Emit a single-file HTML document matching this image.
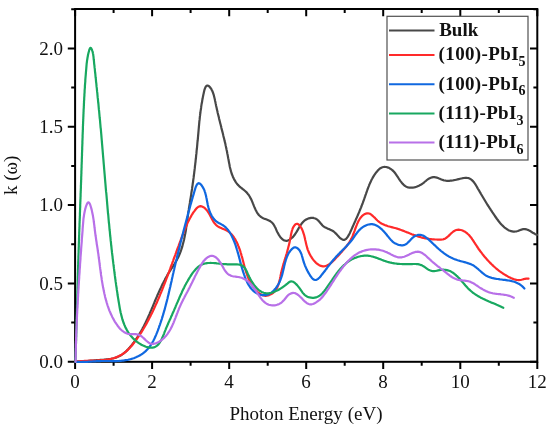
<!DOCTYPE html>
<html lang="en"><head><meta charset="utf-8"><title>k(ω) vs Photon Energy</title>
<style>html,body{margin:0;padding:0;background:#fff}body{width:550px;height:428px;overflow:hidden}svg{display:block}text{font-family:"Liberation Serif","Times New Roman",serif;fill:#111}</style></head><body>
<svg width="550" height="428" viewBox="0 0 550 428">
<rect width="550" height="428" fill="#fff"/>
<g stroke="#000" stroke-width="2" fill="none">
<rect x="75.1" y="9.0" width="462.2" height="352.8"/>
<path d="M75.1,361.8 v7.3 M75.1,9.0 v7.3 M113.6,361.8 v3.9 M113.6,9.0 v3.9 M152.1,361.8 v7.3 M152.1,9.0 v7.3 M190.6,361.8 v3.9 M190.6,9.0 v3.9 M229.2,361.8 v7.3 M229.2,9.0 v7.3 M267.7,361.8 v3.9 M267.7,9.0 v3.9 M306.2,361.8 v7.3 M306.2,9.0 v7.3 M344.7,361.8 v3.9 M344.7,9.0 v3.9 M383.2,361.8 v7.3 M383.2,9.0 v7.3 M421.7,361.8 v3.9 M421.7,9.0 v3.9 M460.3,361.8 v7.3 M460.3,9.0 v7.3 M498.8,361.8 v3.9 M498.8,9.0 v3.9 M537.3,361.8 v7.3 M537.3,9.0 v7.3 M75.1,361.8 h-7.3 M537.3,361.8 h-7.3 M75.1,322.6 h-3.9 M537.3,322.6 h-3.9 M75.1,283.5 h-7.3 M537.3,283.5 h-7.3 M75.1,244.3 h-3.9 M537.3,244.3 h-3.9 M75.1,205.1 h-7.3 M537.3,205.1 h-7.3 M75.1,165.9 h-3.9 M537.3,165.9 h-3.9 M75.1,126.8 h-7.3 M537.3,126.8 h-7.3 M75.1,87.6 h-3.9 M537.3,87.6 h-3.9 M75.1,48.4 h-7.3 M537.3,48.4 h-7.3 M75.1,9.2 h-3.9 M537.3,9.2 h-3.9"/>
</g>
<g fill="none" stroke-width="2.2" stroke-linejoin="round" stroke-linecap="round">
<path stroke="#484848" d="M75.2,361.7 L76.4,361.7 L77.6,361.6 L78.8,361.6 L80.0,361.5 L81.2,361.4 L82.4,361.4 L83.6,361.3 L84.8,361.2 L86.0,361.1 L87.2,361.0 L88.4,360.9 L89.5,360.8 L90.7,360.7 L91.9,360.6 L93.1,360.5 L94.3,360.4 L95.5,360.3 L96.7,360.2 L97.9,360.1 L99.1,360.0 L100.3,359.9 L101.5,359.9 L102.7,359.8 L103.9,359.7 L105.2,359.5 L106.4,359.4 L107.6,359.3 L108.8,359.1 L110.0,359.0 L111.1,358.8 L112.3,358.5 L113.5,358.3 L114.6,358.0 L115.7,357.6 L116.8,357.2 L117.9,356.8 L119.0,356.3 L120.0,355.8 L121.0,355.2 L122.0,354.6 L123.0,353.9 L124.0,353.2 L124.9,352.4 L125.8,351.6 L126.7,350.7 L127.5,349.9 L128.4,349.0 L129.2,348.1 L130.0,347.1 L130.8,346.2 L131.6,345.3 L132.4,344.3 L133.1,343.3 L133.8,342.4 L134.5,341.4 L135.3,340.4 L135.9,339.4 L136.6,338.4 L137.3,337.4 L137.9,336.4 L138.6,335.4 L139.2,334.4 L139.8,333.3 L140.4,332.3 L141.0,331.3 L141.6,330.2 L142.2,329.2 L142.7,328.1 L143.3,327.1 L143.9,326.0 L144.4,324.9 L144.9,323.9 L145.5,322.8 L146.0,321.7 L146.5,320.6 L147.0,319.5 L147.5,318.5 L148.0,317.4 L148.5,316.3 L149.0,315.2 L149.5,314.1 L149.9,313.0 L150.4,311.9 L150.9,310.8 L151.4,309.7 L151.8,308.6 L152.3,307.5 L152.8,306.4 L153.2,305.3 L153.7,304.1 L154.2,303.0 L154.6,301.9 L155.1,300.8 L155.5,299.7 L156.0,298.6 L156.5,297.5 L157.0,296.4 L157.4,295.3 L157.9,294.2 L158.4,293.1 L158.9,292.0 L159.4,290.9 L159.9,289.8 L160.4,288.7 L160.9,287.7 L161.4,286.6 L161.9,285.5 L162.4,284.4 L163.0,283.3 L163.5,282.3 L164.0,281.2 L164.6,280.2 L165.2,279.1 L165.7,278.0 L166.3,277.0 L166.9,276.0 L167.5,274.9 L168.1,273.9 L168.7,272.9 L169.4,271.9 L170.0,270.8 L170.7,269.8 L171.3,268.8 L172.0,267.8 L172.6,266.8 L173.3,265.8 L173.9,264.8 L174.6,263.8 L175.2,262.7 L175.8,261.7 L176.4,260.7 L177.0,259.6 L177.5,258.6 L178.1,257.5 L178.6,256.5 L179.1,255.4 L179.5,254.3 L180.0,253.2 L180.4,252.1 L180.8,251.0 L181.2,249.9 L181.6,248.7 L181.9,247.6 L182.3,246.5 L182.6,245.3 L182.9,244.1 L183.2,243.0 L183.5,241.8 L183.8,240.7 L184.1,239.5 L184.3,238.3 L184.6,237.1 L184.8,235.9 L185.0,234.7 L185.3,233.5 L185.5,232.4 L185.7,231.2 L185.9,230.0 L186.1,228.8 L186.2,227.6 L186.4,226.4 L186.6,225.2 L186.8,224.0 L186.9,222.8 L187.1,221.6 L187.3,220.4 L187.4,219.2 L187.6,218.0 L187.7,216.8 L187.9,215.6 L188.1,214.4 L188.2,213.2 L188.4,212.0 L188.6,210.9 L188.8,209.7 L188.9,208.5 L189.1,207.4 L189.3,206.2 L189.5,205.0 L189.7,203.9 L189.9,202.7 L190.0,201.5 L190.2,200.4 L190.4,199.2 L190.6,198.1 L190.8,196.9 L191.0,195.7 L191.2,194.6 L191.3,193.4 L191.5,192.2 L191.7,191.0 L191.9,189.9 L192.1,188.7 L192.2,187.5 L192.4,186.3 L192.6,185.1 L192.7,183.9 L192.9,182.7 L193.1,181.5 L193.2,180.3 L193.4,179.1 L193.6,177.9 L193.7,176.7 L193.9,175.5 L194.0,174.3 L194.2,173.1 L194.3,171.8 L194.5,170.6 L194.6,169.4 L194.8,168.2 L194.9,167.0 L195.0,165.8 L195.2,164.6 L195.3,163.3 L195.5,162.1 L195.6,160.9 L195.7,159.7 L195.9,158.5 L196.0,157.3 L196.1,156.1 L196.2,154.9 L196.4,153.7 L196.5,152.4 L196.6,151.2 L196.7,150.0 L196.9,148.8 L197.0,147.7 L197.1,146.5 L197.2,145.3 L197.3,144.1 L197.4,142.9 L197.5,141.7 L197.7,140.5 L197.8,139.4 L197.9,138.2 L198.0,137.0 L198.1,135.9 L198.2,134.7 L198.3,133.6 L198.4,132.4 L198.5,131.3 L198.6,130.2 L198.7,129.0 L198.8,127.9 L198.9,126.7 L199.0,125.6 L199.1,124.5 L199.2,123.3 L199.3,122.2 L199.4,121.0 L199.6,119.9 L199.7,118.7 L199.8,117.6 L199.9,116.4 L200.1,115.2 L200.2,114.0 L200.4,112.8 L200.5,111.6 L200.7,110.4 L200.9,109.2 L201.1,107.9 L201.2,106.7 L201.4,105.4 L201.6,104.1 L201.9,102.8 L202.1,101.5 L202.3,100.1 L202.6,98.8 L202.8,97.4 L203.1,96.0 L203.4,94.6 L203.7,93.2 L204.0,91.8 L204.3,90.4 L204.7,89.2 L205.1,88.1 L205.5,87.1 L206.0,86.3 L206.6,85.8 L207.2,85.6 L207.8,85.6 L208.5,85.9 L209.3,86.5 L210.0,87.3 L210.7,88.2 L211.4,89.2 L211.9,90.3 L212.5,91.4 L212.9,92.5 L213.3,93.6 L213.7,94.8 L214.0,96.0 L214.3,97.2 L214.6,98.4 L214.9,99.7 L215.1,100.9 L215.4,102.1 L215.6,103.3 L215.9,104.6 L216.1,105.8 L216.4,107.0 L216.7,108.2 L216.9,109.4 L217.2,110.5 L217.5,111.7 L217.7,112.9 L218.0,114.1 L218.3,115.3 L218.6,116.4 L218.9,117.6 L219.1,118.8 L219.4,119.9 L219.7,121.1 L220.0,122.2 L220.3,123.4 L220.6,124.5 L220.9,125.7 L221.2,126.8 L221.4,128.0 L221.7,129.1 L222.0,130.3 L222.3,131.4 L222.6,132.6 L222.9,133.7 L223.2,134.9 L223.4,136.0 L223.7,137.2 L224.0,138.3 L224.3,139.5 L224.5,140.6 L224.8,141.8 L225.1,142.9 L225.4,144.1 L225.6,145.2 L225.9,146.4 L226.1,147.6 L226.4,148.7 L226.6,149.9 L226.9,151.1 L227.1,152.3 L227.3,153.5 L227.6,154.7 L227.8,155.9 L228.0,157.1 L228.2,158.3 L228.5,159.5 L228.7,160.7 L228.9,161.9 L229.1,163.1 L229.4,164.3 L229.6,165.5 L229.8,166.7 L230.1,167.9 L230.4,169.1 L230.7,170.3 L231.0,171.4 L231.4,172.6 L231.7,173.7 L232.1,174.8 L232.6,175.9 L233.0,177.0 L233.5,178.1 L234.0,179.1 L234.6,180.1 L235.2,181.1 L235.8,182.1 L236.5,183.1 L237.2,184.0 L238.0,184.9 L238.8,185.7 L239.7,186.6 L240.6,187.4 L241.6,188.1 L242.5,188.9 L243.5,189.7 L244.5,190.5 L245.4,191.3 L246.3,192.1 L247.1,193.0 L247.8,193.9 L248.6,194.8 L249.2,195.8 L249.8,196.8 L250.4,197.9 L251.0,198.9 L251.5,200.0 L252.0,201.1 L252.5,202.3 L252.9,203.4 L253.4,204.6 L253.8,205.7 L254.3,206.9 L254.8,208.0 L255.3,209.1 L255.8,210.2 L256.4,211.3 L256.9,212.3 L257.6,213.3 L258.3,214.3 L259.0,215.2 L259.9,216.0 L260.7,216.8 L261.7,217.4 L262.7,218.0 L263.8,218.5 L264.9,218.9 L266.1,219.3 L267.2,219.7 L268.3,220.2 L269.4,220.7 L270.4,221.3 L271.3,222.0 L272.2,222.8 L272.9,223.6 L273.6,224.5 L274.2,225.5 L274.7,226.5 L275.3,227.5 L275.8,228.6 L276.3,229.8 L276.8,231.0 L277.4,232.2 L278.1,233.4 L278.7,234.6 L279.4,235.7 L280.2,236.8 L280.9,237.8 L281.8,238.7 L282.6,239.4 L283.5,240.0 L284.4,240.5 L285.4,240.7 L286.4,240.8 L287.4,240.6 L288.5,240.2 L289.5,239.7 L290.5,239.0 L291.5,238.2 L292.5,237.4 L293.3,236.5 L294.1,235.5 L294.9,234.5 L295.6,233.4 L296.3,232.4 L296.9,231.3 L297.6,230.2 L298.2,229.1 L298.8,228.0 L299.5,226.9 L300.1,225.8 L300.8,224.8 L301.5,223.8 L302.2,222.9 L303.0,222.0 L303.8,221.2 L304.7,220.4 L305.7,219.8 L306.7,219.2 L307.8,218.7 L308.8,218.3 L309.9,218.1 L311.0,217.9 L312.2,217.9 L313.3,217.9 L314.3,218.2 L315.4,218.5 L316.4,219.1 L317.3,219.7 L318.3,220.6 L319.1,221.5 L320.0,222.5 L320.8,223.5 L321.7,224.5 L322.5,225.5 L323.5,226.3 L324.4,227.0 L325.5,227.6 L326.5,228.1 L327.6,228.6 L328.7,229.0 L329.8,229.4 L330.9,229.9 L331.9,230.4 L332.9,231.0 L333.9,231.7 L334.8,232.5 L335.7,233.4 L336.6,234.3 L337.5,235.3 L338.4,236.2 L339.3,237.2 L340.2,238.1 L341.2,238.8 L342.2,239.4 L343.1,239.8 L344.0,239.9 L344.9,239.6 L345.8,239.1 L346.6,238.3 L347.3,237.4 L348.0,236.3 L348.7,235.2 L349.3,234.1 L349.9,232.9 L350.4,231.8 L350.9,230.7 L351.4,229.6 L351.9,228.5 L352.4,227.3 L352.9,226.2 L353.4,225.1 L353.9,224.0 L354.4,222.9 L354.9,221.8 L355.4,220.7 L355.8,219.6 L356.3,218.5 L356.8,217.5 L357.3,216.4 L357.8,215.3 L358.2,214.2 L358.7,213.1 L359.2,212.0 L359.6,210.9 L360.1,209.8 L360.5,208.7 L361.0,207.6 L361.4,206.5 L361.8,205.4 L362.3,204.3 L362.7,203.2 L363.1,202.0 L363.5,200.9 L363.9,199.8 L364.3,198.7 L364.7,197.5 L365.1,196.4 L365.5,195.2 L365.9,194.1 L366.3,192.9 L366.7,191.8 L367.1,190.7 L367.5,189.5 L367.9,188.4 L368.3,187.3 L368.8,186.1 L369.2,185.0 L369.7,183.9 L370.2,182.8 L370.7,181.7 L371.2,180.6 L371.7,179.5 L372.3,178.5 L372.9,177.4 L373.5,176.4 L374.1,175.4 L374.8,174.4 L375.5,173.4 L376.2,172.4 L377.0,171.5 L377.7,170.6 L378.6,169.7 L379.5,168.9 L380.4,168.2 L381.4,167.7 L382.4,167.3 L383.5,167.0 L384.6,166.9 L385.8,167.0 L387.0,167.2 L388.2,167.6 L389.3,168.1 L390.3,168.7 L391.3,169.4 L392.3,170.1 L393.1,170.9 L394.0,171.8 L394.8,172.8 L395.6,173.8 L396.3,174.8 L397.0,175.9 L397.7,176.9 L398.4,178.0 L399.1,179.1 L399.8,180.1 L400.5,181.1 L401.3,182.1 L402.0,183.0 L402.8,183.9 L403.6,184.7 L404.4,185.5 L405.3,186.1 L406.2,186.7 L407.2,187.1 L408.2,187.4 L409.3,187.6 L410.4,187.7 L411.6,187.7 L412.8,187.6 L414.0,187.4 L415.2,187.1 L416.5,186.7 L417.7,186.2 L418.9,185.7 L420.1,185.1 L421.2,184.5 L422.2,183.8 L423.2,183.1 L424.2,182.3 L425.1,181.5 L426.0,180.8 L426.9,180.0 L427.8,179.3 L428.7,178.7 L429.7,178.2 L430.8,177.7 L432.0,177.4 L433.2,177.2 L434.4,177.2 L435.6,177.3 L436.8,177.6 L438.0,178.0 L439.1,178.5 L440.3,179.0 L441.4,179.5 L442.6,179.9 L443.7,180.3 L444.8,180.5 L445.9,180.7 L447.0,180.8 L448.1,180.8 L449.2,180.8 L450.4,180.7 L451.5,180.6 L452.7,180.5 L453.8,180.2 L455.0,180.0 L456.3,179.7 L457.5,179.4 L458.8,179.1 L460.1,178.8 L461.4,178.5 L462.7,178.2 L464.0,178.0 L465.3,177.8 L466.5,177.8 L467.6,178.0 L468.7,178.2 L469.7,178.6 L470.7,179.2 L471.6,179.8 L472.4,180.6 L473.2,181.4 L474.0,182.3 L474.7,183.3 L475.4,184.3 L476.0,185.4 L476.7,186.5 L477.3,187.6 L477.9,188.7 L478.5,189.7 L479.2,190.8 L479.8,191.9 L480.4,192.9 L481.0,194.0 L481.6,195.0 L482.2,196.0 L482.8,197.0 L483.4,198.0 L484.0,199.0 L484.6,200.0 L485.2,201.0 L485.8,202.0 L486.4,203.0 L487.0,204.0 L487.6,205.0 L488.3,206.0 L488.9,206.9 L489.5,207.9 L490.2,208.9 L490.8,209.9 L491.5,210.9 L492.1,211.9 L492.8,212.9 L493.5,213.9 L494.2,214.9 L494.9,216.0 L495.6,217.0 L496.3,218.0 L497.0,219.0 L497.8,220.0 L498.5,221.0 L499.3,222.0 L500.1,223.0 L500.9,223.9 L501.7,224.8 L502.6,225.6 L503.5,226.5 L504.3,227.3 L505.2,228.0 L506.2,228.7 L507.1,229.3 L508.1,229.9 L509.1,230.4 L510.1,230.8 L511.1,231.2 L512.2,231.4 L513.3,231.6 L514.4,231.6 L515.5,231.5 L516.7,231.3 L517.9,231.0 L519.1,230.5 L520.3,230.0 L521.5,229.6 L522.7,229.2 L523.9,229.1 L525.1,229.1 L526.3,229.3 L527.4,229.7 L528.5,230.1 L529.6,230.7 L530.7,231.3 L531.7,232.0 L532.8,232.7 L533.9,233.3 L534.9,233.9 L536.0,234.4 L537.0,234.8"/>
<path stroke="#ff2a2a" d="M75.3,361.9 L76.4,361.7 L77.6,361.5 L78.7,361.4 L79.8,361.3 L81.0,361.1 L82.2,361.1 L83.4,361.0 L84.6,360.9 L85.8,360.9 L87.0,360.8 L88.2,360.8 L89.4,360.7 L90.6,360.7 L91.9,360.6 L93.1,360.6 L94.3,360.6 L95.6,360.5 L96.8,360.5 L98.0,360.4 L99.3,360.4 L100.5,360.3 L101.7,360.2 L103.0,360.1 L104.2,360.0 L105.4,359.8 L106.6,359.7 L107.8,359.5 L109.0,359.3 L110.1,359.1 L111.3,358.8 L112.4,358.5 L113.6,358.2 L114.7,357.9 L115.8,357.5 L116.9,357.1 L117.9,356.6 L119.0,356.1 L120.0,355.6 L121.0,355.1 L122.0,354.4 L123.0,353.8 L123.9,353.1 L124.9,352.4 L125.8,351.7 L126.7,350.9 L127.5,350.1 L128.4,349.2 L129.2,348.4 L130.1,347.5 L130.9,346.6 L131.7,345.7 L132.5,344.7 L133.2,343.8 L134.0,342.8 L134.7,341.9 L135.5,340.9 L136.2,339.9 L136.9,338.9 L137.6,337.9 L138.3,336.9 L139.0,335.9 L139.7,334.9 L140.3,333.9 L141.0,332.9 L141.6,331.9 L142.2,330.8 L142.9,329.8 L143.5,328.8 L144.1,327.8 L144.7,326.7 L145.3,325.7 L145.9,324.6 L146.5,323.6 L147.1,322.5 L147.6,321.5 L148.2,320.4 L148.7,319.4 L149.3,318.3 L149.8,317.3 L150.4,316.2 L150.9,315.1 L151.4,314.1 L152.0,313.0 L152.5,311.9 L153.0,310.9 L153.5,309.8 L154.0,308.7 L154.5,307.6 L155.0,306.5 L155.5,305.4 L156.0,304.3 L156.5,303.3 L157.0,302.2 L157.4,301.1 L157.9,300.0 L158.4,298.9 L158.9,297.8 L159.3,296.7 L159.8,295.6 L160.2,294.4 L160.7,293.3 L161.2,292.2 L161.6,291.1 L162.1,290.0 L162.5,288.9 L162.9,287.8 L163.4,286.7 L163.8,285.5 L164.3,284.4 L164.7,283.3 L165.1,282.2 L165.6,281.1 L166.0,279.9 L166.4,278.8 L166.8,277.7 L167.3,276.6 L167.7,275.4 L168.1,274.3 L168.5,273.2 L169.0,272.1 L169.4,270.9 L169.8,269.8 L170.2,268.7 L170.6,267.5 L171.0,266.4 L171.4,265.3 L171.9,264.2 L172.3,263.0 L172.7,261.9 L173.1,260.8 L173.5,259.6 L173.9,258.5 L174.3,257.4 L174.7,256.3 L175.2,255.1 L175.6,254.0 L176.0,252.9 L176.4,251.7 L176.8,250.6 L177.2,249.5 L177.6,248.4 L178.0,247.3 L178.5,246.1 L178.9,245.0 L179.3,243.9 L179.7,242.8 L180.1,241.7 L180.6,240.5 L181.0,239.4 L181.4,238.3 L181.8,237.2 L182.2,236.1 L182.7,235.0 L183.1,233.9 L183.5,232.8 L184.0,231.7 L184.4,230.5 L184.9,229.4 L185.3,228.3 L185.7,227.3 L186.2,226.2 L186.7,225.1 L187.1,224.0 L187.6,222.9 L188.1,221.8 L188.7,220.7 L189.2,219.6 L189.8,218.5 L190.4,217.5 L191.0,216.4 L191.6,215.3 L192.2,214.3 L192.9,213.2 L193.6,212.1 L194.4,211.1 L195.2,210.0 L196.0,209.0 L196.8,208.1 L197.7,207.3 L198.6,206.7 L199.6,206.3 L200.5,206.2 L201.5,206.3 L202.5,206.7 L203.5,207.2 L204.5,207.9 L205.4,208.8 L206.3,209.7 L207.1,210.6 L207.8,211.6 L208.5,212.7 L209.1,213.7 L209.8,214.8 L210.3,215.9 L210.9,217.0 L211.5,218.1 L212.0,219.2 L212.6,220.2 L213.2,221.3 L213.9,222.3 L214.5,223.2 L215.3,224.1 L216.1,225.0 L216.9,225.7 L217.8,226.4 L218.9,227.0 L219.9,227.6 L221.1,228.1 L222.2,228.6 L223.4,229.0 L224.6,229.5 L225.7,230.0 L226.8,230.6 L227.9,231.2 L228.9,231.9 L229.8,232.7 L230.7,233.5 L231.5,234.3 L232.3,235.2 L233.1,236.2 L233.8,237.1 L234.4,238.1 L235.1,239.1 L235.7,240.2 L236.2,241.2 L236.8,242.3 L237.3,243.4 L237.8,244.5 L238.2,245.6 L238.7,246.7 L239.1,247.8 L239.5,248.9 L239.9,250.0 L240.3,251.2 L240.6,252.3 L241.0,253.5 L241.3,254.6 L241.6,255.8 L242.0,256.9 L242.3,258.1 L242.6,259.2 L242.9,260.4 L243.2,261.6 L243.5,262.7 L243.8,263.9 L244.1,265.1 L244.4,266.2 L244.7,267.4 L245.0,268.5 L245.4,269.7 L245.7,270.8 L246.1,272.0 L246.5,273.1 L246.9,274.2 L247.3,275.4 L247.7,276.5 L248.1,277.6 L248.6,278.7 L249.1,279.8 L249.6,280.8 L250.2,281.9 L250.7,283.0 L251.3,284.0 L252.0,285.1 L252.6,286.1 L253.3,287.1 L254.1,288.1 L254.8,289.1 L255.6,290.0 L256.5,290.9 L257.4,291.8 L258.3,292.6 L259.3,293.4 L260.2,294.1 L261.3,294.6 L262.3,295.1 L263.4,295.5 L264.5,295.7 L265.6,295.8 L266.8,295.7 L268.0,295.5 L269.1,295.1 L270.3,294.6 L271.4,294.1 L272.4,293.4 L273.4,292.6 L274.3,291.8 L275.0,291.0 L275.7,290.0 L276.4,289.0 L277.0,288.0 L277.5,286.9 L277.9,285.8 L278.4,284.7 L278.7,283.5 L279.1,282.3 L279.4,281.1 L279.7,279.9 L280.0,278.7 L280.2,277.5 L280.5,276.2 L280.7,275.0 L281.0,273.8 L281.3,272.6 L281.5,271.4 L281.8,270.3 L282.1,269.1 L282.4,268.0 L282.7,266.8 L283.0,265.7 L283.3,264.6 L283.7,263.5 L284.0,262.4 L284.3,261.3 L284.7,260.2 L285.0,259.1 L285.3,258.0 L285.7,256.9 L286.0,255.8 L286.3,254.7 L286.7,253.6 L287.0,252.4 L287.3,251.3 L287.6,250.1 L287.9,249.0 L288.2,247.8 L288.5,246.6 L288.8,245.4 L289.1,244.2 L289.4,242.9 L289.7,241.7 L289.9,240.4 L290.2,239.0 L290.4,237.7 L290.7,236.4 L290.9,235.1 L291.2,233.8 L291.5,232.5 L291.8,231.2 L292.2,230.0 L292.5,228.9 L293.0,227.8 L293.5,226.8 L294.1,225.9 L294.7,225.1 L295.4,224.4 L296.1,224.0 L296.9,223.8 L297.7,223.9 L298.4,224.4 L299.2,225.0 L299.9,225.9 L300.6,226.9 L301.3,227.9 L301.9,229.0 L302.4,230.2 L302.9,231.4 L303.3,232.6 L303.7,233.8 L304.1,235.0 L304.4,236.2 L304.7,237.5 L305.0,238.7 L305.2,239.9 L305.5,241.1 L305.8,242.3 L306.0,243.4 L306.3,244.5 L306.6,245.7 L306.9,246.8 L307.2,247.9 L307.5,249.0 L307.9,250.1 L308.4,251.2 L308.8,252.3 L309.3,253.4 L309.9,254.5 L310.5,255.6 L311.2,256.7 L311.9,257.8 L312.6,258.9 L313.4,259.9 L314.3,260.9 L315.1,261.9 L316.0,262.8 L317.0,263.6 L317.9,264.3 L318.9,264.9 L319.9,265.4 L320.9,265.9 L321.9,266.1 L322.9,266.3 L323.9,266.3 L324.9,266.2 L325.9,266.0 L326.9,265.6 L327.9,265.1 L328.8,264.5 L329.8,263.9 L330.8,263.1 L331.8,262.3 L332.7,261.4 L333.7,260.5 L334.6,259.6 L335.5,258.6 L336.4,257.6 L337.3,256.6 L338.2,255.7 L339.1,254.7 L340.0,253.7 L340.8,252.8 L341.6,251.9 L342.4,251.0 L343.2,250.1 L344.0,249.2 L344.7,248.4 L345.4,247.5 L346.2,246.6 L346.9,245.7 L347.5,244.8 L348.2,243.9 L348.8,243.0 L349.4,242.1 L350.0,241.1 L350.6,240.1 L351.1,239.1 L351.7,238.0 L352.2,237.0 L352.7,235.9 L353.1,234.7 L353.6,233.5 L354.0,232.3 L354.5,231.1 L354.9,229.9 L355.3,228.7 L355.8,227.5 L356.2,226.3 L356.7,225.1 L357.1,223.9 L357.7,222.7 L358.2,221.6 L358.8,220.5 L359.4,219.5 L360.0,218.5 L360.7,217.6 L361.4,216.7 L362.2,215.9 L363.1,215.2 L364.0,214.5 L364.9,214.0 L366.0,213.6 L367.0,213.3 L368.0,213.3 L369.0,213.5 L369.9,213.8 L370.9,214.4 L371.8,215.1 L372.7,215.9 L373.6,216.7 L374.6,217.6 L375.5,218.6 L376.4,219.5 L377.4,220.5 L378.4,221.3 L379.4,222.1 L380.4,222.8 L381.4,223.5 L382.5,224.0 L383.6,224.5 L384.7,225.0 L385.8,225.4 L386.9,225.8 L388.0,226.2 L389.1,226.5 L390.3,226.8 L391.4,227.1 L392.6,227.4 L393.7,227.7 L394.9,228.0 L396.0,228.3 L397.1,228.6 L398.3,229.0 L399.4,229.4 L400.5,229.8 L401.7,230.2 L402.8,230.6 L403.9,231.0 L405.0,231.5 L406.1,231.9 L407.3,232.4 L408.4,232.8 L409.5,233.3 L410.6,233.7 L411.7,234.2 L412.9,234.6 L414.0,235.0 L415.1,235.4 L416.3,235.8 L417.4,236.2 L418.5,236.6 L419.7,236.9 L420.9,237.3 L422.0,237.6 L423.2,237.8 L424.4,238.1 L425.5,238.3 L426.7,238.5 L427.9,238.7 L429.1,238.9 L430.3,239.0 L431.5,239.2 L432.7,239.3 L433.9,239.4 L435.1,239.5 L436.3,239.5 L437.5,239.6 L438.7,239.6 L439.9,239.6 L441.0,239.6 L442.2,239.5 L443.3,239.3 L444.4,238.9 L445.4,238.4 L446.5,237.7 L447.4,236.9 L448.4,236.1 L449.4,235.1 L450.3,234.2 L451.2,233.3 L452.2,232.5 L453.2,231.7 L454.2,231.0 L455.2,230.4 L456.2,230.0 L457.3,229.8 L458.5,229.7 L459.6,229.8 L460.7,230.0 L461.9,230.3 L463.0,230.7 L464.0,231.3 L465.1,231.8 L466.0,232.5 L467.0,233.2 L467.8,234.0 L468.7,234.8 L469.5,235.6 L470.2,236.5 L471.0,237.4 L471.7,238.4 L472.3,239.4 L473.0,240.3 L473.7,241.4 L474.3,242.4 L475.0,243.4 L475.6,244.4 L476.3,245.4 L477.0,246.5 L477.7,247.5 L478.3,248.5 L479.0,249.5 L479.8,250.5 L480.5,251.5 L481.2,252.4 L482.0,253.4 L482.7,254.4 L483.5,255.3 L484.2,256.3 L485.0,257.2 L485.8,258.1 L486.6,259.0 L487.4,259.9 L488.2,260.8 L489.1,261.7 L489.9,262.6 L490.7,263.4 L491.6,264.3 L492.5,265.1 L493.3,265.9 L494.2,266.7 L495.1,267.5 L496.0,268.3 L497.0,269.1 L497.9,269.8 L498.8,270.6 L499.8,271.3 L500.7,272.0 L501.7,272.6 L502.7,273.3 L503.7,274.0 L504.7,274.6 L505.7,275.2 L506.7,275.8 L507.8,276.4 L508.8,276.9 L509.9,277.4 L510.9,278.0 L512.0,278.4 L513.1,278.9 L514.2,279.3 L515.3,279.6 L516.5,279.9 L517.6,280.0 L518.8,280.1 L520.0,280.0 L521.2,279.8 L522.5,279.5 L523.7,279.1 L525.0,278.8 L526.2,278.6 L527.4,278.5 L528.5,278.6"/>
<path stroke="#1068e0" d="M75.2,361.8 L76.4,361.8 L77.6,361.9 L78.8,361.9 L80.0,362.0 L81.2,362.0 L82.4,361.9 L83.6,361.9 L84.8,361.9 L86.0,361.8 L87.2,361.8 L88.4,361.7 L89.6,361.7 L90.8,361.6 L92.0,361.5 L93.2,361.4 L94.4,361.4 L95.5,361.3 L96.7,361.2 L97.9,361.2 L99.1,361.1 L100.3,361.1 L101.5,361.0 L102.7,361.0 L103.9,361.0 L105.1,361.0 L106.3,361.0 L107.5,361.0 L108.8,361.0 L110.0,361.0 L111.2,361.1 L112.4,361.1 L113.6,361.1 L114.8,361.1 L116.0,361.1 L117.3,361.0 L118.5,361.0 L119.7,360.9 L120.9,360.8 L122.1,360.7 L123.3,360.6 L124.5,360.4 L125.7,360.2 L126.9,360.0 L128.0,359.8 L129.2,359.5 L130.4,359.2 L131.5,358.9 L132.7,358.5 L133.8,358.2 L134.9,357.7 L136.0,357.3 L137.0,356.8 L138.1,356.3 L139.1,355.8 L140.1,355.2 L141.1,354.6 L142.1,354.0 L143.0,353.3 L143.9,352.6 L144.8,351.9 L145.7,351.1 L146.5,350.3 L147.3,349.5 L148.1,348.6 L148.8,347.7 L149.5,346.8 L150.2,345.8 L150.9,344.8 L151.6,343.8 L152.2,342.8 L152.8,341.7 L153.4,340.7 L153.9,339.6 L154.5,338.5 L155.0,337.3 L155.5,336.2 L156.0,335.1 L156.5,333.9 L157.0,332.7 L157.4,331.6 L157.9,330.4 L158.3,329.2 L158.7,328.1 L159.1,326.9 L159.5,325.7 L160.0,324.6 L160.3,323.4 L160.7,322.3 L161.1,321.1 L161.5,319.9 L161.9,318.8 L162.2,317.6 L162.6,316.5 L162.9,315.3 L163.3,314.2 L163.6,313.0 L163.9,311.9 L164.3,310.7 L164.6,309.6 L164.9,308.4 L165.2,307.3 L165.5,306.2 L165.8,305.0 L166.1,303.9 L166.4,302.7 L166.7,301.6 L167.0,300.4 L167.3,299.3 L167.6,298.2 L167.8,297.0 L168.1,295.9 L168.4,294.7 L168.7,293.6 L168.9,292.4 L169.2,291.3 L169.5,290.1 L169.7,289.0 L170.0,287.8 L170.3,286.7 L170.5,285.5 L170.8,284.4 L171.0,283.2 L171.3,282.1 L171.6,280.9 L171.8,279.8 L172.1,278.6 L172.3,277.5 L172.6,276.3 L172.8,275.1 L173.1,274.0 L173.4,272.8 L173.6,271.6 L173.9,270.5 L174.2,269.3 L174.4,268.1 L174.7,266.9 L175.0,265.8 L175.3,264.6 L175.5,263.4 L175.8,262.2 L176.1,261.0 L176.4,259.8 L176.7,258.7 L176.9,257.5 L177.2,256.3 L177.5,255.1 L177.8,253.9 L178.1,252.7 L178.4,251.5 L178.7,250.3 L179.0,249.1 L179.3,248.0 L179.6,246.8 L179.8,245.6 L180.1,244.4 L180.4,243.2 L180.7,242.0 L181.0,240.9 L181.3,239.7 L181.6,238.5 L181.9,237.3 L182.2,236.2 L182.5,235.0 L182.8,233.9 L183.1,232.7 L183.4,231.5 L183.7,230.4 L184.0,229.2 L184.3,228.1 L184.6,227.0 L184.9,225.8 L185.2,224.7 L185.5,223.6 L185.8,222.5 L186.1,221.4 L186.4,220.3 L186.7,219.1 L187.0,218.0 L187.3,216.9 L187.6,215.8 L187.8,214.7 L188.1,213.6 L188.4,212.5 L188.7,211.4 L189.1,210.3 L189.4,209.2 L189.7,208.0 L190.0,206.9 L190.3,205.7 L190.6,204.5 L191.0,203.4 L191.3,202.2 L191.7,200.9 L192.0,199.7 L192.4,198.4 L192.7,197.2 L193.1,195.9 L193.5,194.6 L193.9,193.2 L194.3,191.8 L194.7,190.4 L195.1,189.1 L195.5,187.7 L196.0,186.5 L196.5,185.4 L197.0,184.5 L197.6,183.8 L198.2,183.3 L198.9,183.2 L199.6,183.5 L200.4,184.0 L201.1,184.8 L201.9,185.8 L202.6,186.9 L203.3,188.1 L203.9,189.2 L204.4,190.4 L204.8,191.6 L205.2,192.7 L205.5,193.9 L205.8,195.1 L206.1,196.2 L206.3,197.4 L206.6,198.6 L206.8,199.7 L207.0,200.9 L207.2,202.1 L207.5,203.3 L207.7,204.5 L208.0,205.7 L208.3,206.9 L208.6,208.1 L209.0,209.3 L209.3,210.5 L209.8,211.6 L210.2,212.7 L210.7,213.8 L211.2,214.9 L211.8,216.0 L212.4,217.0 L213.1,217.9 L213.8,218.9 L214.6,219.7 L215.4,220.6 L216.3,221.3 L217.2,222.0 L218.2,222.7 L219.3,223.3 L220.4,223.8 L221.4,224.4 L222.5,225.0 L223.5,225.7 L224.5,226.4 L225.4,227.1 L226.2,228.0 L227.1,228.8 L227.8,229.8 L228.6,230.7 L229.2,231.7 L229.9,232.7 L230.5,233.8 L231.1,234.8 L231.7,235.9 L232.2,237.0 L232.7,238.1 L233.2,239.2 L233.7,240.3 L234.1,241.4 L234.6,242.5 L235.0,243.6 L235.4,244.7 L235.8,245.9 L236.1,247.0 L236.5,248.1 L236.8,249.3 L237.2,250.4 L237.5,251.6 L237.8,252.7 L238.2,253.8 L238.5,255.0 L238.8,256.1 L239.1,257.3 L239.4,258.4 L239.7,259.6 L240.0,260.8 L240.3,261.9 L240.6,263.1 L240.9,264.2 L241.2,265.4 L241.5,266.5 L241.9,267.7 L242.2,268.8 L242.6,270.0 L242.9,271.2 L243.3,272.3 L243.7,273.4 L244.1,274.6 L244.5,275.7 L244.9,276.9 L245.3,278.0 L245.8,279.2 L246.3,280.3 L246.8,281.4 L247.3,282.5 L247.9,283.6 L248.5,284.6 L249.1,285.7 L249.8,286.7 L250.4,287.7 L251.2,288.6 L252.0,289.5 L252.8,290.3 L253.6,291.1 L254.6,291.9 L255.5,292.5 L256.5,293.1 L257.6,293.7 L258.7,294.2 L259.9,294.6 L261.1,294.9 L262.3,295.1 L263.5,295.2 L264.7,295.2 L265.9,295.1 L267.0,294.8 L268.2,294.4 L269.3,293.9 L270.3,293.3 L271.3,292.6 L272.3,291.8 L273.2,291.0 L274.0,290.2 L274.8,289.3 L275.6,288.4 L276.3,287.5 L277.0,286.5 L277.6,285.5 L278.2,284.5 L278.8,283.5 L279.3,282.4 L279.8,281.4 L280.3,280.3 L280.7,279.2 L281.1,278.0 L281.5,276.9 L281.9,275.7 L282.2,274.6 L282.5,273.4 L282.8,272.2 L283.1,271.0 L283.4,269.7 L283.7,268.5 L284.0,267.3 L284.2,266.1 L284.5,264.9 L284.8,263.7 L285.1,262.5 L285.5,261.3 L285.8,260.1 L286.2,258.9 L286.6,257.8 L287.0,256.7 L287.5,255.6 L288.0,254.5 L288.5,253.5 L289.1,252.5 L289.8,251.5 L290.5,250.6 L291.3,249.7 L292.1,248.8 L293.0,248.1 L293.9,247.5 L294.8,247.3 L295.8,247.4 L296.8,247.8 L297.8,248.5 L298.7,249.4 L299.5,250.3 L300.1,251.4 L300.7,252.5 L301.2,253.7 L301.7,254.9 L302.0,256.1 L302.4,257.3 L302.7,258.5 L303.0,259.7 L303.4,260.9 L303.7,262.0 L304.1,263.1 L304.5,264.2 L304.9,265.3 L305.3,266.3 L305.8,267.4 L306.3,268.5 L306.8,269.6 L307.4,270.7 L308.0,271.9 L308.7,273.1 L309.4,274.3 L310.1,275.5 L310.9,276.6 L311.7,277.7 L312.5,278.6 L313.4,279.3 L314.2,279.8 L315.1,280.0 L316.0,280.0 L316.9,279.6 L317.8,279.1 L318.7,278.3 L319.6,277.5 L320.5,276.5 L321.3,275.4 L322.2,274.3 L323.0,273.3 L323.8,272.2 L324.6,271.2 L325.4,270.2 L326.1,269.2 L326.9,268.2 L327.6,267.2 L328.3,266.2 L329.1,265.3 L329.8,264.4 L330.5,263.4 L331.2,262.5 L332.0,261.6 L332.7,260.7 L333.4,259.8 L334.2,258.9 L334.9,258.1 L335.7,257.2 L336.5,256.3 L337.3,255.5 L338.1,254.6 L339.0,253.8 L339.8,252.9 L340.6,252.1 L341.5,251.2 L342.4,250.3 L343.2,249.5 L344.1,248.6 L345.0,247.8 L345.8,246.9 L346.7,246.0 L347.5,245.1 L348.3,244.2 L349.1,243.3 L349.9,242.4 L350.7,241.5 L351.5,240.6 L352.2,239.6 L352.9,238.7 L353.6,237.7 L354.3,236.7 L354.9,235.7 L355.6,234.7 L356.3,233.8 L357.0,232.8 L357.7,231.9 L358.5,231.0 L359.3,230.1 L360.2,229.2 L361.1,228.4 L362.1,227.6 L363.1,226.9 L364.2,226.3 L365.3,225.7 L366.4,225.2 L367.5,224.8 L368.7,224.5 L369.8,224.3 L371.0,224.2 L372.1,224.2 L373.2,224.4 L374.3,224.6 L375.3,225.0 L376.4,225.5 L377.4,226.0 L378.4,226.6 L379.4,227.3 L380.3,228.1 L381.3,228.9 L382.2,229.8 L383.1,230.7 L384.0,231.6 L384.8,232.6 L385.6,233.5 L386.5,234.5 L387.2,235.5 L388.0,236.4 L388.8,237.4 L389.5,238.3 L390.2,239.1 L391.0,240.0 L391.8,240.8 L392.6,241.6 L393.5,242.3 L394.4,243.0 L395.5,243.6 L396.6,244.1 L397.8,244.6 L399.0,245.0 L400.2,245.2 L401.4,245.4 L402.6,245.3 L403.7,245.2 L404.8,244.8 L405.8,244.3 L406.8,243.6 L407.7,242.8 L408.6,241.9 L409.5,241.0 L410.4,240.1 L411.3,239.1 L412.1,238.2 L413.1,237.4 L414.0,236.6 L415.0,236.0 L416.0,235.5 L417.1,235.2 L418.1,234.9 L419.2,234.8 L420.3,234.8 L421.4,235.0 L422.4,235.4 L423.5,235.8 L424.5,236.4 L425.5,237.0 L426.5,237.8 L427.5,238.6 L428.5,239.4 L429.4,240.3 L430.4,241.1 L431.3,242.0 L432.2,242.9 L433.1,243.7 L434.0,244.6 L434.9,245.4 L435.8,246.2 L436.6,247.1 L437.5,247.9 L438.4,248.7 L439.3,249.5 L440.1,250.2 L441.0,251.0 L441.9,251.7 L442.9,252.4 L443.8,253.1 L444.8,253.8 L445.7,254.5 L446.7,255.1 L447.7,255.8 L448.8,256.4 L449.8,256.9 L450.9,257.5 L452.0,258.0 L453.0,258.5 L454.1,259.0 L455.2,259.4 L456.4,259.8 L457.5,260.2 L458.6,260.5 L459.8,260.9 L460.9,261.2 L462.1,261.5 L463.2,261.8 L464.3,262.1 L465.5,262.4 L466.6,262.7 L467.7,263.1 L468.8,263.5 L469.9,263.9 L471.0,264.3 L472.0,264.8 L473.1,265.3 L474.1,265.9 L475.0,266.6 L476.0,267.3 L476.9,268.1 L477.9,268.8 L478.8,269.7 L479.7,270.5 L480.6,271.3 L481.5,272.1 L482.4,272.9 L483.4,273.7 L484.3,274.4 L485.3,275.1 L486.3,275.7 L487.4,276.2 L488.4,276.7 L489.5,277.1 L490.6,277.5 L491.7,277.9 L492.9,278.2 L494.0,278.4 L495.2,278.7 L496.4,278.9 L497.6,279.0 L498.8,279.2 L500.0,279.4 L501.2,279.5 L502.4,279.7 L503.7,279.8 L504.9,279.9 L506.1,280.1 L507.3,280.3 L508.5,280.5 L509.7,280.7 L510.9,280.9 L512.0,281.2 L513.2,281.5 L514.3,281.8 L515.5,282.2 L516.6,282.7 L517.6,283.2 L518.7,283.7 L519.7,284.3 L520.7,285.0 L521.7,285.8 L522.6,286.6 L523.5,287.5 L524.4,288.5"/>
<path stroke="#18a860" d="M75.4,361.7 L75.4,360.5 L75.5,359.3 L75.5,358.1 L75.6,356.9 L75.6,355.7 L75.6,354.5 L75.7,353.3 L75.7,352.1 L75.7,350.9 L75.8,349.7 L75.8,348.5 L75.9,347.3 L75.9,346.1 L75.9,344.9 L76.0,343.7 L76.0,342.5 L76.0,341.3 L76.1,340.1 L76.1,338.9 L76.1,337.7 L76.2,336.5 L76.2,335.3 L76.2,334.1 L76.3,332.9 L76.3,331.7 L76.3,330.5 L76.4,329.3 L76.4,328.1 L76.4,326.9 L76.5,325.7 L76.5,324.5 L76.5,323.3 L76.6,322.1 L76.6,320.9 L76.6,319.7 L76.7,318.5 L76.7,317.4 L76.7,316.2 L76.8,315.0 L76.8,313.8 L76.8,312.6 L76.9,311.4 L76.9,310.2 L76.9,309.0 L77.0,307.8 L77.0,306.6 L77.0,305.4 L77.1,304.2 L77.1,303.0 L77.1,301.8 L77.2,300.6 L77.2,299.4 L77.2,298.2 L77.3,297.0 L77.3,295.8 L77.3,294.6 L77.4,293.4 L77.4,292.2 L77.4,291.0 L77.5,289.8 L77.5,288.6 L77.5,287.4 L77.6,286.2 L77.6,285.0 L77.6,283.8 L77.7,282.6 L77.7,281.4 L77.7,280.2 L77.8,279.0 L77.8,277.8 L77.8,276.6 L77.9,275.4 L77.9,274.2 L77.9,273.0 L78.0,271.8 L78.0,270.6 L78.0,269.4 L78.1,268.2 L78.1,267.0 L78.1,265.8 L78.2,264.6 L78.2,263.4 L78.2,262.2 L78.3,261.0 L78.3,259.8 L78.4,258.6 L78.4,257.4 L78.4,256.2 L78.5,255.1 L78.5,253.9 L78.6,252.7 L78.6,251.5 L78.6,250.3 L78.7,249.1 L78.7,247.9 L78.8,246.7 L78.8,245.5 L78.8,244.3 L78.9,243.1 L78.9,241.9 L79.0,240.7 L79.0,239.5 L79.0,238.3 L79.1,237.1 L79.1,235.9 L79.2,234.7 L79.2,233.5 L79.2,232.3 L79.3,231.1 L79.3,229.9 L79.4,228.7 L79.4,227.5 L79.5,226.3 L79.5,225.1 L79.5,223.9 L79.6,222.7 L79.6,221.5 L79.7,220.3 L79.7,219.1 L79.8,217.9 L79.8,216.7 L79.9,215.5 L79.9,214.3 L79.9,213.1 L80.0,211.9 L80.0,210.7 L80.1,209.5 L80.1,208.3 L80.2,207.1 L80.2,205.9 L80.2,204.7 L80.3,203.5 L80.3,202.3 L80.4,201.1 L80.4,199.9 L80.5,198.7 L80.5,197.5 L80.6,196.3 L80.6,195.1 L80.6,193.9 L80.7,192.7 L80.7,191.5 L80.8,190.3 L80.8,189.1 L80.9,187.9 L80.9,186.7 L80.9,185.5 L81.0,184.3 L81.0,183.1 L81.1,181.9 L81.1,180.7 L81.2,179.5 L81.2,178.3 L81.2,177.1 L81.3,175.9 L81.3,174.7 L81.4,173.5 L81.4,172.3 L81.4,171.1 L81.5,169.9 L81.5,168.7 L81.6,167.5 L81.6,166.4 L81.6,165.2 L81.7,164.0 L81.7,162.8 L81.8,161.6 L81.8,160.4 L81.8,159.2 L81.9,158.0 L81.9,156.8 L82.0,155.6 L82.0,154.4 L82.0,153.2 L82.1,152.0 L82.1,150.8 L82.2,149.6 L82.2,148.4 L82.2,147.2 L82.3,146.0 L82.3,144.8 L82.4,143.6 L82.4,142.4 L82.4,141.2 L82.5,140.0 L82.5,138.8 L82.6,137.6 L82.6,136.4 L82.6,135.2 L82.7,134.0 L82.7,132.8 L82.8,131.6 L82.8,130.4 L82.9,129.3 L82.9,128.1 L82.9,126.9 L83.0,125.7 L83.0,124.5 L83.1,123.3 L83.1,122.1 L83.2,120.9 L83.2,119.7 L83.3,118.5 L83.3,117.3 L83.4,116.1 L83.4,114.9 L83.5,113.7 L83.5,112.5 L83.6,111.3 L83.6,110.1 L83.7,108.9 L83.8,107.7 L83.8,106.5 L83.9,105.3 L83.9,104.1 L84.0,102.9 L84.0,101.7 L84.1,100.5 L84.2,99.3 L84.2,98.1 L84.3,96.9 L84.4,95.7 L84.4,94.5 L84.5,93.3 L84.6,92.1 L84.6,90.9 L84.7,89.7 L84.8,88.5 L84.9,87.3 L84.9,86.1 L85.0,84.9 L85.1,83.7 L85.2,82.5 L85.3,81.3 L85.3,80.1 L85.4,78.9 L85.5,77.7 L85.6,76.5 L85.7,75.3 L85.8,74.1 L85.9,72.9 L86.0,71.7 L86.1,70.5 L86.2,69.3 L86.3,68.1 L86.4,66.9 L86.5,65.7 L86.6,64.5 L86.7,63.3 L86.9,62.1 L87.0,60.9 L87.2,59.7 L87.4,58.5 L87.6,57.3 L87.8,56.2 L88.0,55.0 L88.3,53.8 L88.6,52.6 L88.9,51.4 L89.2,50.2 L89.6,49.1 L90.0,48.2 L90.4,47.8 L90.9,48.0 L91.4,48.7 L91.9,49.7 L92.3,50.9 L92.7,52.0 L92.9,53.2 L93.2,54.4 L93.3,55.6 L93.5,56.8 L93.6,58.0 L93.7,59.3 L93.9,60.5 L94.0,61.7 L94.1,62.9 L94.2,64.1 L94.4,65.3 L94.5,66.5 L94.6,67.7 L94.8,68.9 L94.9,70.1 L95.0,71.3 L95.1,72.5 L95.3,73.7 L95.4,74.9 L95.5,76.1 L95.6,77.3 L95.8,78.5 L95.9,79.7 L96.0,80.9 L96.1,82.1 L96.3,83.3 L96.4,84.5 L96.5,85.7 L96.6,86.9 L96.8,88.1 L96.9,89.3 L97.0,90.5 L97.1,91.7 L97.3,92.9 L97.4,94.1 L97.5,95.3 L97.6,96.5 L97.7,97.7 L97.9,98.9 L98.0,100.1 L98.1,101.3 L98.2,102.5 L98.4,103.7 L98.5,104.9 L98.6,106.1 L98.7,107.3 L98.8,108.5 L98.9,109.7 L99.1,110.9 L99.2,112.1 L99.3,113.3 L99.4,114.4 L99.5,115.6 L99.6,116.8 L99.7,118.0 L99.9,119.2 L100.0,120.4 L100.1,121.6 L100.2,122.8 L100.3,124.0 L100.4,125.2 L100.5,126.4 L100.6,127.6 L100.8,128.8 L100.9,130.0 L101.0,131.1 L101.1,132.3 L101.2,133.5 L101.3,134.7 L101.4,135.9 L101.5,137.1 L101.6,138.3 L101.7,139.5 L101.8,140.7 L101.9,141.9 L102.0,143.1 L102.1,144.3 L102.2,145.4 L102.3,146.6 L102.4,147.8 L102.5,149.0 L102.6,150.2 L102.7,151.4 L102.8,152.6 L102.9,153.8 L103.0,155.0 L103.1,156.2 L103.2,157.4 L103.3,158.5 L103.4,159.7 L103.5,160.9 L103.6,162.1 L103.7,163.3 L103.8,164.5 L103.9,165.7 L104.0,166.9 L104.1,168.1 L104.2,169.3 L104.3,170.5 L104.4,171.6 L104.5,172.8 L104.6,174.0 L104.7,175.2 L104.8,176.4 L104.9,177.6 L105.0,178.8 L105.1,180.0 L105.2,181.2 L105.3,182.4 L105.4,183.5 L105.5,184.7 L105.6,185.9 L105.7,187.1 L105.8,188.3 L105.9,189.5 L106.0,190.7 L106.1,191.9 L106.3,193.1 L106.4,194.3 L106.5,195.5 L106.6,196.6 L106.7,197.8 L106.8,199.0 L106.9,200.2 L107.0,201.4 L107.1,202.6 L107.2,203.8 L107.3,205.0 L107.4,206.2 L107.5,207.4 L107.6,208.6 L107.7,209.7 L107.8,210.9 L107.9,212.1 L108.0,213.3 L108.2,214.5 L108.3,215.7 L108.4,216.9 L108.5,218.1 L108.6,219.3 L108.7,220.5 L108.8,221.7 L108.9,222.8 L109.1,224.0 L109.2,225.2 L109.3,226.4 L109.4,227.6 L109.5,228.8 L109.6,230.0 L109.8,231.2 L109.9,232.4 L110.0,233.6 L110.1,234.8 L110.2,236.0 L110.4,237.2 L110.5,238.3 L110.6,239.5 L110.7,240.7 L110.9,241.9 L111.0,243.1 L111.1,244.3 L111.2,245.5 L111.4,246.7 L111.5,247.9 L111.6,249.1 L111.8,250.3 L111.9,251.5 L112.0,252.7 L112.2,253.9 L112.3,255.1 L112.5,256.2 L112.6,257.4 L112.7,258.6 L112.9,259.8 L113.0,261.0 L113.2,262.2 L113.3,263.4 L113.5,264.6 L113.6,265.8 L113.8,267.0 L113.9,268.2 L114.1,269.4 L114.2,270.6 L114.4,271.8 L114.5,273.0 L114.7,274.2 L114.8,275.4 L115.0,276.6 L115.1,277.8 L115.3,279.0 L115.5,280.2 L115.6,281.4 L115.8,282.6 L116.0,283.7 L116.1,284.9 L116.3,286.1 L116.5,287.3 L116.7,288.5 L116.8,289.7 L117.0,290.9 L117.2,292.1 L117.4,293.3 L117.5,294.5 L117.7,295.7 L117.9,296.9 L118.1,298.1 L118.3,299.3 L118.5,300.5 L118.7,301.7 L118.9,302.9 L119.1,304.1 L119.3,305.3 L119.5,306.5 L119.7,307.7 L119.9,308.9 L120.1,310.1 L120.4,311.3 L120.6,312.4 L120.9,313.6 L121.2,314.8 L121.5,315.9 L121.8,317.1 L122.1,318.2 L122.4,319.4 L122.8,320.5 L123.2,321.6 L123.5,322.7 L124.0,323.8 L124.4,324.9 L124.9,325.9 L125.3,327.0 L125.8,328.1 L126.4,329.1 L126.9,330.1 L127.5,331.1 L128.1,332.1 L128.8,333.1 L129.5,334.0 L130.2,335.0 L130.9,335.9 L131.7,336.8 L132.5,337.7 L133.3,338.6 L134.2,339.4 L135.1,340.3 L136.1,341.1 L137.1,341.9 L138.1,342.6 L139.2,343.4 L140.3,344.0 L141.4,344.7 L142.5,345.3 L143.7,345.8 L144.8,346.3 L145.9,346.8 L147.1,347.1 L148.2,347.4 L149.3,347.6 L150.4,347.7 L151.5,347.7 L152.6,347.6 L153.6,347.4 L154.6,347.1 L155.5,346.7 L156.4,346.1 L157.3,345.4 L158.1,344.7 L158.8,343.8 L159.5,342.8 L160.2,341.8 L160.9,340.6 L161.5,339.5 L162.1,338.3 L162.6,337.0 L163.1,335.8 L163.7,334.5 L164.2,333.3 L164.6,332.0 L165.1,330.8 L165.6,329.6 L166.0,328.5 L166.5,327.4 L167.0,326.3 L167.4,325.3 L167.9,324.3 L168.3,323.2 L168.7,322.2 L169.2,321.2 L169.6,320.2 L170.1,319.2 L170.6,318.2 L171.0,317.1 L171.5,316.1 L172.0,315.0 L172.4,313.9 L172.9,312.8 L173.4,311.7 L173.9,310.6 L174.4,309.4 L174.9,308.3 L175.4,307.2 L175.8,306.0 L176.3,304.9 L176.8,303.7 L177.3,302.6 L177.8,301.5 L178.3,300.3 L178.8,299.2 L179.2,298.1 L179.7,297.0 L180.2,295.9 L180.7,294.8 L181.2,293.7 L181.7,292.7 L182.1,291.6 L182.6,290.5 L183.1,289.5 L183.7,288.4 L184.2,287.4 L184.7,286.3 L185.2,285.3 L185.8,284.3 L186.3,283.2 L186.9,282.2 L187.5,281.2 L188.1,280.1 L188.7,279.1 L189.3,278.1 L190.0,277.0 L190.6,276.0 L191.3,275.0 L192.0,273.9 L192.7,272.9 L193.5,271.9 L194.3,270.9 L195.1,270.0 L195.9,269.1 L196.7,268.2 L197.6,267.4 L198.5,266.6 L199.5,265.9 L200.5,265.3 L201.5,264.7 L202.5,264.2 L203.6,263.9 L204.7,263.5 L205.9,263.3 L207.0,263.1 L208.2,263.0 L209.4,263.0 L210.6,262.9 L211.8,263.0 L213.1,263.0 L214.3,263.1 L215.5,263.2 L216.8,263.4 L218.0,263.5 L219.2,263.6 L220.3,263.7 L221.5,263.9 L222.7,264.0 L223.8,264.1 L224.9,264.1 L226.1,264.2 L227.2,264.3 L228.3,264.3 L229.5,264.3 L230.7,264.3 L231.9,264.3 L233.2,264.3 L234.5,264.3 L235.7,264.3 L237.0,264.4 L238.2,264.5 L239.4,264.7 L240.5,264.9 L241.6,265.3 L242.5,265.8 L243.4,266.4 L244.1,267.2 L244.8,268.0 L245.5,269.0 L246.0,270.0 L246.6,271.1 L247.1,272.3 L247.6,273.4 L248.2,274.6 L248.7,275.8 L249.3,277.0 L249.9,278.1 L250.5,279.3 L251.2,280.5 L251.9,281.6 L252.5,282.7 L253.2,283.7 L254.0,284.8 L254.7,285.8 L255.5,286.7 L256.3,287.6 L257.1,288.5 L258.0,289.3 L258.8,290.0 L259.7,290.7 L260.7,291.3 L261.6,291.9 L262.6,292.3 L263.6,292.7 L264.6,293.0 L265.6,293.2 L266.7,293.3 L267.8,293.3 L268.9,293.2 L270.1,293.0 L271.2,292.8 L272.4,292.5 L273.6,292.1 L274.8,291.6 L275.9,291.1 L277.1,290.6 L278.3,290.0 L279.4,289.3 L280.5,288.6 L281.6,287.9 L282.7,287.2 L283.8,286.4 L284.8,285.6 L285.8,284.9 L286.7,284.1 L287.7,283.3 L288.5,282.6 L289.4,282.0 L290.3,281.6 L291.2,281.4 L292.1,281.5 L293.1,281.8 L294.1,282.4 L295.1,283.2 L296.1,284.1 L297.1,285.1 L297.9,286.1 L298.7,287.1 L299.5,288.2 L300.2,289.2 L300.9,290.2 L301.6,291.2 L302.3,292.2 L303.0,293.1 L303.7,293.9 L304.5,294.7 L305.4,295.5 L306.4,296.1 L307.4,296.7 L308.5,297.1 L309.8,297.4 L311.1,297.7 L312.4,297.8 L313.6,297.8 L314.8,297.6 L316.0,297.4 L317.0,297.0 L318.1,296.5 L319.1,296.0 L320.0,295.3 L320.9,294.6 L321.8,293.8 L322.6,293.0 L323.4,292.1 L324.2,291.2 L324.9,290.2 L325.7,289.2 L326.4,288.2 L327.1,287.2 L327.8,286.2 L328.5,285.2 L329.2,284.2 L329.9,283.2 L330.6,282.1 L331.3,281.1 L332.0,280.1 L332.6,279.1 L333.3,278.1 L334.0,277.1 L334.7,276.1 L335.4,275.1 L336.1,274.2 L336.8,273.2 L337.6,272.3 L338.3,271.3 L339.0,270.4 L339.8,269.5 L340.6,268.6 L341.4,267.7 L342.2,266.9 L343.0,266.1 L343.8,265.2 L344.7,264.5 L345.6,263.7 L346.5,262.9 L347.4,262.2 L348.4,261.5 L349.4,260.9 L350.4,260.2 L351.4,259.6 L352.5,259.1 L353.6,258.5 L354.7,258.0 L355.9,257.6 L357.0,257.2 L358.2,256.8 L359.4,256.5 L360.6,256.2 L361.8,256.0 L363.0,255.8 L364.2,255.7 L365.4,255.6 L366.6,255.6 L367.8,255.7 L368.9,255.8 L370.1,256.0 L371.3,256.3 L372.4,256.5 L373.6,256.9 L374.7,257.2 L375.9,257.6 L377.0,258.0 L378.1,258.4 L379.3,258.9 L380.4,259.3 L381.6,259.8 L382.7,260.2 L383.8,260.6 L385.0,261.0 L386.1,261.4 L387.3,261.8 L388.4,262.1 L389.6,262.4 L390.7,262.6 L391.9,262.9 L393.1,263.1 L394.2,263.3 L395.4,263.5 L396.6,263.6 L397.8,263.8 L399.0,263.9 L400.1,264.0 L401.3,264.0 L402.5,264.1 L403.7,264.1 L404.9,264.2 L406.1,264.2 L407.3,264.2 L408.5,264.2 L409.6,264.1 L410.8,264.1 L412.0,264.1 L413.2,264.0 L414.4,264.0 L415.6,264.0 L416.7,264.1 L417.9,264.2 L419.0,264.4 L420.1,264.7 L421.2,265.1 L422.3,265.6 L423.4,266.2 L424.5,266.9 L425.5,267.6 L426.5,268.3 L427.6,269.1 L428.6,269.7 L429.7,270.2 L430.7,270.6 L431.8,270.9 L433.0,271.1 L434.2,271.1 L435.5,271.0 L436.8,270.7 L438.2,270.4 L439.5,270.2 L440.8,269.9 L442.1,269.8 L443.3,269.7 L444.5,269.8 L445.7,269.9 L446.8,270.1 L447.9,270.4 L449.0,270.7 L450.0,271.1 L451.0,271.6 L451.9,272.1 L452.9,272.7 L453.8,273.4 L454.7,274.1 L455.6,274.8 L456.4,275.6 L457.3,276.4 L458.1,277.2 L459.0,278.1 L459.8,278.9 L460.6,279.9 L461.4,280.8 L462.2,281.7 L463.0,282.6 L463.8,283.6 L464.6,284.5 L465.4,285.5 L466.3,286.4 L467.1,287.3 L467.9,288.2 L468.8,289.1 L469.7,289.9 L470.6,290.7 L471.5,291.5 L472.4,292.3 L473.4,293.0 L474.3,293.7 L475.3,294.4 L476.3,295.0 L477.3,295.6 L478.3,296.2 L479.3,296.8 L480.4,297.4 L481.4,297.9 L482.5,298.5 L483.6,299.0 L484.7,299.5 L485.7,300.0 L486.8,300.5 L487.9,301.0 L489.0,301.5 L490.1,301.9 L491.2,302.4 L492.3,302.9 L493.4,303.3 L494.6,303.8 L495.7,304.3 L496.8,304.8 L497.9,305.2 L499.0,305.7 L500.1,306.2 L501.2,306.7 L502.2,307.3 L503.3,307.8"/>
<path stroke="#b870e8" d="M75.6,361.8 L75.6,360.6 L75.6,359.4 L75.6,358.2 L75.7,357.0 L75.7,355.8 L75.7,354.6 L75.7,353.4 L75.7,352.2 L75.8,351.0 L75.8,349.8 L75.8,348.6 L75.9,347.5 L75.9,346.3 L75.9,345.1 L75.9,343.9 L76.0,342.7 L76.0,341.5 L76.1,340.3 L76.1,339.1 L76.1,337.9 L76.2,336.7 L76.2,335.5 L76.2,334.3 L76.3,333.1 L76.3,331.9 L76.4,330.7 L76.4,329.5 L76.5,328.3 L76.5,327.1 L76.6,325.9 L76.6,324.7 L76.7,323.5 L76.7,322.3 L76.8,321.1 L76.8,319.9 L76.9,318.7 L76.9,317.5 L77.0,316.3 L77.0,315.1 L77.1,313.9 L77.2,312.7 L77.2,311.5 L77.3,310.3 L77.3,309.1 L77.4,307.9 L77.5,306.7 L77.5,305.5 L77.6,304.3 L77.7,303.1 L77.7,301.9 L77.8,300.7 L77.9,299.5 L77.9,298.3 L78.0,297.1 L78.1,295.9 L78.1,294.7 L78.2,293.5 L78.3,292.3 L78.3,291.1 L78.4,289.9 L78.5,288.7 L78.6,287.5 L78.6,286.3 L78.7,285.1 L78.8,283.9 L78.9,282.7 L78.9,281.5 L79.0,280.3 L79.1,279.1 L79.2,277.9 L79.2,276.7 L79.3,275.5 L79.4,274.3 L79.5,273.1 L79.6,271.9 L79.6,270.7 L79.7,269.5 L79.8,268.3 L79.9,267.1 L80.0,265.9 L80.0,264.8 L80.1,263.6 L80.2,262.4 L80.3,261.2 L80.4,260.0 L80.5,258.8 L80.5,257.6 L80.6,256.4 L80.7,255.2 L80.8,254.0 L80.9,252.8 L81.0,251.7 L81.1,250.5 L81.1,249.3 L81.2,248.1 L81.3,246.9 L81.4,245.7 L81.5,244.5 L81.6,243.3 L81.7,242.2 L81.8,241.0 L81.8,239.8 L81.9,238.6 L82.0,237.4 L82.1,236.3 L82.2,235.1 L82.3,233.9 L82.4,232.7 L82.5,231.5 L82.6,230.4 L82.6,229.2 L82.7,228.0 L82.8,226.8 L82.9,225.7 L83.0,224.5 L83.1,223.3 L83.2,222.1 L83.3,220.9 L83.4,219.7 L83.5,218.5 L83.7,217.3 L83.9,216.0 L84.1,214.7 L84.3,213.4 L84.6,212.0 L84.9,210.6 L85.2,209.1 L85.6,207.7 L86.0,206.4 L86.5,205.1 L86.9,204.1 L87.4,203.2 L87.8,202.6 L88.3,202.4 L88.8,202.4 L89.2,202.9 L89.7,203.6 L90.1,204.5 L90.5,205.7 L90.9,207.0 L91.3,208.4 L91.7,209.9 L92.0,211.4 L92.3,212.8 L92.6,214.2 L92.9,215.6 L93.1,216.9 L93.3,218.2 L93.5,219.4 L93.7,220.6 L93.8,221.8 L94.0,223.0 L94.1,224.1 L94.3,225.3 L94.4,226.4 L94.5,227.5 L94.7,228.6 L94.8,229.7 L94.9,230.8 L95.1,231.9 L95.2,233.1 L95.4,234.2 L95.5,235.3 L95.7,236.5 L95.9,237.6 L96.0,238.8 L96.2,240.0 L96.4,241.2 L96.6,242.4 L96.7,243.6 L96.9,244.7 L97.1,245.9 L97.3,247.2 L97.5,248.4 L97.7,249.6 L97.8,250.8 L98.0,252.0 L98.2,253.2 L98.4,254.4 L98.5,255.6 L98.7,256.8 L98.8,258.0 L99.0,259.2 L99.2,260.4 L99.3,261.6 L99.5,262.8 L99.6,264.0 L99.8,265.2 L99.9,266.4 L100.1,267.6 L100.2,268.7 L100.4,269.9 L100.6,271.1 L100.7,272.3 L100.9,273.5 L101.0,274.7 L101.2,275.9 L101.4,277.0 L101.6,278.2 L101.7,279.4 L101.9,280.6 L102.1,281.8 L102.3,282.9 L102.5,284.1 L102.7,285.3 L102.9,286.4 L103.1,287.6 L103.4,288.8 L103.6,289.9 L103.8,291.1 L104.1,292.3 L104.3,293.4 L104.6,294.6 L104.9,295.7 L105.1,296.9 L105.4,298.1 L105.7,299.2 L106.1,300.4 L106.4,301.5 L106.7,302.6 L107.1,303.8 L107.4,304.9 L107.8,306.1 L108.2,307.2 L108.6,308.3 L109.0,309.5 L109.4,310.6 L109.9,311.7 L110.4,312.8 L110.8,313.9 L111.4,315.0 L111.9,316.1 L112.4,317.2 L113.0,318.3 L113.6,319.4 L114.2,320.5 L114.8,321.6 L115.5,322.6 L116.2,323.7 L116.9,324.7 L117.6,325.7 L118.4,326.7 L119.1,327.7 L119.9,328.6 L120.8,329.5 L121.7,330.3 L122.6,331.0 L123.5,331.7 L124.4,332.3 L125.4,332.9 L126.5,333.3 L127.5,333.7 L128.6,334.0 L129.7,334.1 L130.9,334.2 L132.1,334.2 L133.3,334.1 L134.5,334.1 L135.6,334.1 L136.7,334.3 L137.8,334.5 L138.9,334.9 L140.0,335.4 L141.0,336.0 L142.0,336.7 L142.9,337.5 L143.9,338.4 L144.9,339.4 L145.8,340.3 L146.8,341.2 L147.8,342.0 L148.8,342.7 L149.8,343.2 L150.9,343.6 L152.0,343.8 L153.1,343.8 L154.2,343.6 L155.4,343.4 L156.5,343.0 L157.6,342.5 L158.7,342.0 L159.7,341.3 L160.7,340.7 L161.7,340.0 L162.6,339.2 L163.5,338.5 L164.3,337.7 L165.1,336.8 L165.9,336.0 L166.6,335.1 L167.4,334.1 L168.0,333.2 L168.7,332.2 L169.3,331.2 L169.9,330.2 L170.5,329.2 L171.0,328.1 L171.6,327.1 L172.1,326.0 L172.6,324.9 L173.1,323.8 L173.6,322.6 L174.0,321.5 L174.5,320.4 L174.9,319.2 L175.4,318.1 L175.8,316.9 L176.3,315.8 L176.7,314.6 L177.1,313.5 L177.6,312.3 L178.0,311.1 L178.5,310.0 L178.9,308.9 L179.4,307.7 L179.9,306.6 L180.4,305.5 L180.9,304.4 L181.4,303.3 L181.9,302.2 L182.4,301.2 L183.0,300.1 L183.5,299.0 L184.1,298.0 L184.6,296.9 L185.2,295.9 L185.7,294.8 L186.3,293.8 L186.8,292.8 L187.4,291.7 L187.9,290.7 L188.5,289.6 L189.0,288.6 L189.6,287.5 L190.1,286.5 L190.6,285.4 L191.1,284.4 L191.7,283.3 L192.2,282.3 L192.7,281.2 L193.2,280.1 L193.8,279.1 L194.3,278.0 L194.8,276.9 L195.3,275.8 L195.9,274.8 L196.4,273.7 L197.0,272.6 L197.5,271.5 L198.1,270.4 L198.7,269.3 L199.3,268.2 L199.9,267.1 L200.5,266.0 L201.1,264.9 L201.8,263.8 L202.4,262.8 L203.1,261.8 L203.9,260.8 L204.7,259.9 L205.5,259.1 L206.3,258.3 L207.2,257.6 L208.2,256.9 L209.2,256.4 L210.2,256.0 L211.2,255.8 L212.3,255.8 L213.3,256.0 L214.3,256.4 L215.3,256.9 L216.2,257.6 L217.1,258.5 L218.0,259.4 L218.8,260.3 L219.5,261.4 L220.2,262.4 L220.9,263.5 L221.5,264.6 L222.2,265.7 L222.8,266.8 L223.4,267.9 L224.0,269.0 L224.7,270.1 L225.4,271.1 L226.1,272.1 L226.9,273.0 L227.7,273.8 L228.6,274.5 L229.6,275.1 L230.7,275.6 L231.8,276.0 L233.0,276.3 L234.3,276.5 L235.5,276.6 L236.8,276.8 L238.1,277.0 L239.3,277.2 L240.4,277.5 L241.6,277.8 L242.6,278.2 L243.7,278.7 L244.7,279.2 L245.6,279.7 L246.6,280.3 L247.4,281.0 L248.3,281.7 L249.1,282.4 L249.9,283.2 L250.7,284.0 L251.5,284.9 L252.2,285.8 L253.0,286.7 L253.7,287.6 L254.4,288.6 L255.1,289.6 L255.8,290.6 L256.5,291.7 L257.1,292.7 L257.8,293.8 L258.5,294.8 L259.2,295.9 L259.9,296.9 L260.7,298.0 L261.4,298.9 L262.2,299.9 L263.0,300.8 L263.9,301.6 L264.8,302.4 L265.7,303.1 L266.6,303.7 L267.7,304.2 L268.7,304.7 L269.8,305.0 L271.0,305.2 L272.2,305.3 L273.4,305.4 L274.6,305.3 L275.8,305.1 L277.0,304.8 L278.1,304.4 L279.3,303.9 L280.4,303.3 L281.4,302.6 L282.3,301.8 L283.2,300.9 L284.1,300.0 L284.9,299.0 L285.7,298.0 L286.5,297.0 L287.3,296.1 L288.1,295.2 L289.0,294.5 L290.0,293.9 L291.0,293.4 L292.1,293.1 L293.1,292.9 L294.2,293.0 L295.2,293.2 L296.2,293.7 L297.2,294.3 L298.2,295.0 L299.2,295.8 L300.1,296.7 L301.1,297.6 L302.0,298.6 L302.9,299.6 L303.8,300.5 L304.7,301.4 L305.7,302.2 L306.6,302.9 L307.6,303.6 L308.6,304.0 L309.6,304.3 L310.7,304.4 L311.8,304.3 L312.9,304.0 L314.0,303.6 L315.1,303.0 L316.1,302.4 L317.1,301.7 L318.1,301.0 L319.0,300.3 L319.9,299.6 L320.7,298.8 L321.5,297.9 L322.3,297.1 L323.0,296.2 L323.7,295.3 L324.4,294.4 L325.1,293.5 L325.8,292.5 L326.5,291.6 L327.1,290.6 L327.8,289.6 L328.5,288.6 L329.2,287.6 L329.8,286.5 L330.5,285.5 L331.2,284.5 L331.8,283.4 L332.5,282.4 L333.2,281.3 L333.9,280.3 L334.5,279.2 L335.2,278.1 L335.9,277.1 L336.6,276.0 L337.3,275.0 L338.0,273.9 L338.7,272.9 L339.4,271.9 L340.2,270.9 L340.9,269.8 L341.6,268.8 L342.4,267.9 L343.1,266.9 L343.9,265.9 L344.7,265.0 L345.5,264.0 L346.3,263.1 L347.1,262.2 L347.9,261.4 L348.7,260.5 L349.5,259.7 L350.4,258.9 L351.3,258.1 L352.1,257.3 L353.0,256.6 L353.9,255.9 L354.9,255.2 L355.8,254.6 L356.8,254.0 L357.7,253.4 L358.7,252.8 L359.7,252.3 L360.8,251.9 L361.8,251.4 L362.9,251.0 L363.9,250.7 L365.0,250.4 L366.2,250.1 L367.3,249.8 L368.5,249.7 L369.6,249.5 L370.8,249.4 L372.0,249.4 L373.2,249.3 L374.5,249.4 L375.7,249.4 L376.9,249.6 L378.2,249.7 L379.4,249.9 L380.6,250.2 L381.8,250.5 L383.0,250.8 L384.2,251.2 L385.4,251.7 L386.5,252.1 L387.7,252.7 L388.8,253.2 L389.9,253.8 L391.0,254.4 L392.1,254.9 L393.2,255.5 L394.2,256.0 L395.3,256.4 L396.4,256.8 L397.5,257.1 L398.5,257.3 L399.6,257.4 L400.7,257.4 L401.9,257.3 L403.0,257.0 L404.2,256.7 L405.3,256.3 L406.5,255.8 L407.7,255.2 L408.8,254.7 L410.0,254.1 L411.2,253.6 L412.3,253.1 L413.5,252.6 L414.6,252.2 L415.7,251.9 L416.8,251.8 L417.9,251.7 L419.0,251.8 L420.0,252.1 L421.1,252.5 L422.1,253.0 L423.0,253.6 L424.0,254.3 L425.0,255.0 L425.9,255.8 L426.9,256.7 L427.8,257.6 L428.7,258.4 L429.7,259.3 L430.6,260.1 L431.5,261.0 L432.4,261.8 L433.4,262.6 L434.3,263.3 L435.2,264.1 L436.1,264.8 L437.0,265.6 L437.9,266.3 L438.9,267.0 L439.8,267.7 L440.7,268.5 L441.6,269.2 L442.6,269.9 L443.5,270.6 L444.4,271.3 L445.4,272.1 L446.3,272.8 L447.2,273.6 L448.2,274.3 L449.2,275.1 L450.1,275.8 L451.1,276.5 L452.1,277.2 L453.2,277.8 L454.2,278.3 L455.3,278.8 L456.4,279.2 L457.5,279.6 L458.7,279.9 L459.9,280.1 L461.1,280.2 L462.3,280.4 L463.5,280.5 L464.7,280.6 L465.9,280.8 L467.1,281.0 L468.2,281.2 L469.4,281.5 L470.5,281.9 L471.6,282.4 L472.6,282.9 L473.7,283.5 L474.7,284.2 L475.7,284.9 L476.7,285.5 L477.7,286.2 L478.7,286.9 L479.8,287.6 L480.8,288.2 L481.8,288.8 L482.8,289.4 L483.9,290.0 L484.9,290.6 L486.0,291.1 L487.1,291.5 L488.2,292.0 L489.3,292.4 L490.4,292.7 L491.6,293.0 L492.8,293.3 L493.9,293.5 L495.1,293.7 L496.3,293.8 L497.5,294.0 L498.7,294.1 L499.9,294.2 L501.1,294.4 L502.3,294.5 L503.5,294.7 L504.7,294.8 L505.9,295.0 L507.1,295.3 L508.3,295.6 L509.4,295.9 L510.5,296.3 L511.6,296.7 L512.7,297.3 L513.8,297.8"/>
</g>
<g font-size="19px" text-anchor="middle">
<text x="75.0" y="388.3">0</text>
<text x="152.0" y="388.3">2</text>
<text x="229.1" y="388.3">4</text>
<text x="306.1" y="388.3">6</text>
<text x="383.1" y="388.3">8</text>
<text x="460.2" y="388.3">10</text>
<text x="537.2" y="388.3">12</text>
</g>
<g font-size="19px" text-anchor="end">
<text x="62.9" y="368.1">0.0</text>
<text x="62.9" y="289.8">0.5</text>
<text x="62.9" y="211.4">1.0</text>
<text x="62.9" y="133.1">1.5</text>
<text x="62.9" y="54.7">2.0</text>
</g>
<text x="306.0" y="420.0" font-size="19px" letter-spacing="0.03" text-anchor="middle">Photon Energy (eV)</text>
<text transform="translate(17.4,175.3) rotate(-90)" font-size="19px" text-anchor="middle">k (ω)</text>
<rect x="387.0" y="16.3" width="141.0" height="143.7" fill="#fff" stroke="#505050" stroke-width="1.2"/>
<g stroke-width="2" fill="none">
<path stroke="#484848" d="M389,30.4 H434.5"/>
<path stroke="#ff2a2a" d="M389,55.0 H434.5"/>
<path stroke="#1068e0" d="M389,84.2 H434.5"/>
<path stroke="#18a860" d="M389,113.5 H434.5"/>
<path stroke="#b870e8" d="M389,142.6 H434.5"/>
</g>
<g font-size="19px" font-weight="bold">
<text x="439.2" y="35.6">Bulk</text>
<text x="438.6" y="60.3" letter-spacing="0.36">(100)-PbI<tspan font-size="14px" dy="5.4" dx="-0.3">5</tspan></text>
<text x="438.6" y="90.0" letter-spacing="0.36">(100)-PbI<tspan font-size="14px" dy="5.4" dx="-0.3">6</tspan></text>
<text x="438.6" y="119.4" letter-spacing="0.36">(111)-PbI<tspan font-size="14px" dy="5.4" dx="-0.3">3</tspan></text>
<text x="438.6" y="148.4" letter-spacing="0.36">(111)-PbI<tspan font-size="14px" dy="5.4" dx="-0.3">6</tspan></text>
</g>
</svg></body></html>
